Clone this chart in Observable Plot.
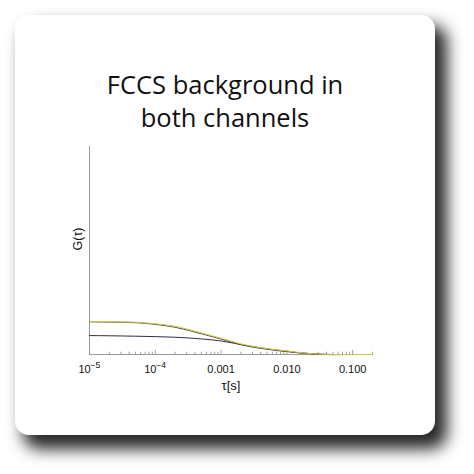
<!DOCTYPE html>
<html>
<head>
<meta charset="utf-8">
<script src="https://cdn.jsdelivr.net/npm/d3@7"></script>
<script src="https://cdn.jsdelivr.net/npm/@observablehq/plot@0.6"></script>
<style>
  html, body { margin: 0; padding: 0; background: #fff; width: 474px; height: 474px; overflow: hidden; }
  #card { position: absolute; left: 15px; top: 15px; width: 420px; height: 420px; background: #fff;
          border-radius: 14px; box-shadow: 10px 12px 16px 2px rgba(0,0,0,0.85); }
  #title { position: absolute; left: 15px; top: 68px; width: 420px; text-align: center;
           font-family: "Open Sans", sans-serif; font-size: 25.5px; line-height: 33px; color: #111; }
  #chart { position: absolute; left: 0; top: 0; }
</style>
</head>
<body>
<div id="card"></div>
<div id="title">FCCS background in<br>both channels</div>
<div id="chart"></div>
<script>
const titleText = "FCCS background in both channels";
const xLabel = "τ[s]";
const yLabel = "G(τ)";

const tau    = [1e-5, 2e-5, 5e-5, 1e-4, 2e-4, 5e-4, 1e-3, 2e-3, 5e-3, 1e-2, 2e-2, 5e-2, 1e-1, 2e-1];
const chanA  = [0.159, 0.158, 0.155, 0.148, 0.135, 0.104, 0.078, 0.051, 0.028, 0.017, 0.006, 0.000, 0.000, 0.000];
const chanX  = [0.157, 0.156, 0.153, 0.145, 0.131, 0.100, 0.074, 0.047, 0.025, 0.014, 0.005, -0.001, 0.000, 0.000];
const chanB  = [0.091, 0.090, 0.088, 0.086, 0.083, 0.075, 0.065, 0.048, 0.027, 0.015, 0.005, 0.000, 0.000, 0.000];

const seriesNames  = ["channel 1", "cross", "channel 2"];
const seriesColors = ["#d2c63c", "#4a4a4a", "#2e2e4a"];

const majorTicks = [1e-5, 1e-4, 1e-3, 1e-2, 1e-1];
const tickBase   = ["10", "10", "0.001", "0.010", "0.100"];
const tickExp    = ["−5", "−4", "", "", ""];
const minorTicks = [2e-5,3e-5,4e-5,5e-5,6e-5,7e-5,8e-5,9e-5,
                    2e-4,3e-4,4e-4,5e-4,6e-4,7e-4,8e-4,9e-4,
                    2e-3,3e-3,4e-3,5e-3,6e-3,7e-3,8e-3,9e-3,
                    2e-2,3e-2,4e-2,5e-2,6e-2,7e-2,8e-2,9e-2, 2e-1];

const rows = [];
[chanB, chanX, chanA].forEach((vals, k) => {
  const s = [2, 1, 0][k];
  tau.forEach((t, i) => rows.push({tau: t, g: vals[i], series: seriesNames[s]}));
});
const tickRows = majorTicks.map((t, i) => ({t, base: tickBase[i], exp: tickExp[i], sup: tickExp[i] !== ""}));

const font = "Liberation Sans, Arial, sans-serif";

const chart = Plot.plot({
  width: 474, height: 474,
  marginLeft: 89, marginRight: 102, marginTop: 146, marginBottom: 120,
  style: {background: "transparent", fontFamily: font, overflow: "visible"},
  x: {type: "log", domain: [1e-5, 0.2], axis: null},
  y: {domain: [0, 1], axis: null},
  color: {domain: seriesNames, range: seriesColors},
  marks: [
    Plot.ruleY([0], {stroke: "#9a9a9a", strokeWidth: 1}),
    Plot.ruleX([1e-5], {stroke: "#9a9a9a", strokeWidth: 1}),
    Plot.ruleX(minorTicks, {y1: 0, y2: 0.011, stroke: "#8a8a8a", strokeWidth: 0.8}),
    Plot.ruleX(majorTicks, {y1: 0, y2: 0.02, stroke: "#8a8a8a", strokeWidth: 0.8}),
    Plot.line(rows, {x: "tau", y: "g", z: "series", stroke: "series", strokeWidth: 1, curve: "monotone-x"}),
    Plot.text(tickRows.filter(d => !d.sup), {x: "t", y: 0, text: "base", dy: 15,
      textAnchor: "middle", fontSize: 11, fill: "#111"}),
    Plot.text(tickRows.filter(d => d.sup), {x: "t", y: 0, text: "base", dy: 15, dx: -5,
      textAnchor: "middle", fontSize: 11, fill: "#111"}),
    Plot.text(tickRows.filter(d => d.sup), {x: "t", y: 0, text: "exp", dx: 1, dy: 11,
      textAnchor: "start", fontSize: 8.5, fill: "#111"}),
    Plot.text([xLabel], {frameAnchor: "bottom", dy: 35, fontSize: 13, fill: "#111"}),
    Plot.text([yLabel], {frameAnchor: "left", dx: -12, rotate: -90, fontSize: 12.5, fill: "#111"})
  ]
});
document.getElementById("chart").appendChild(chart);
</script>
</body>
</html>
